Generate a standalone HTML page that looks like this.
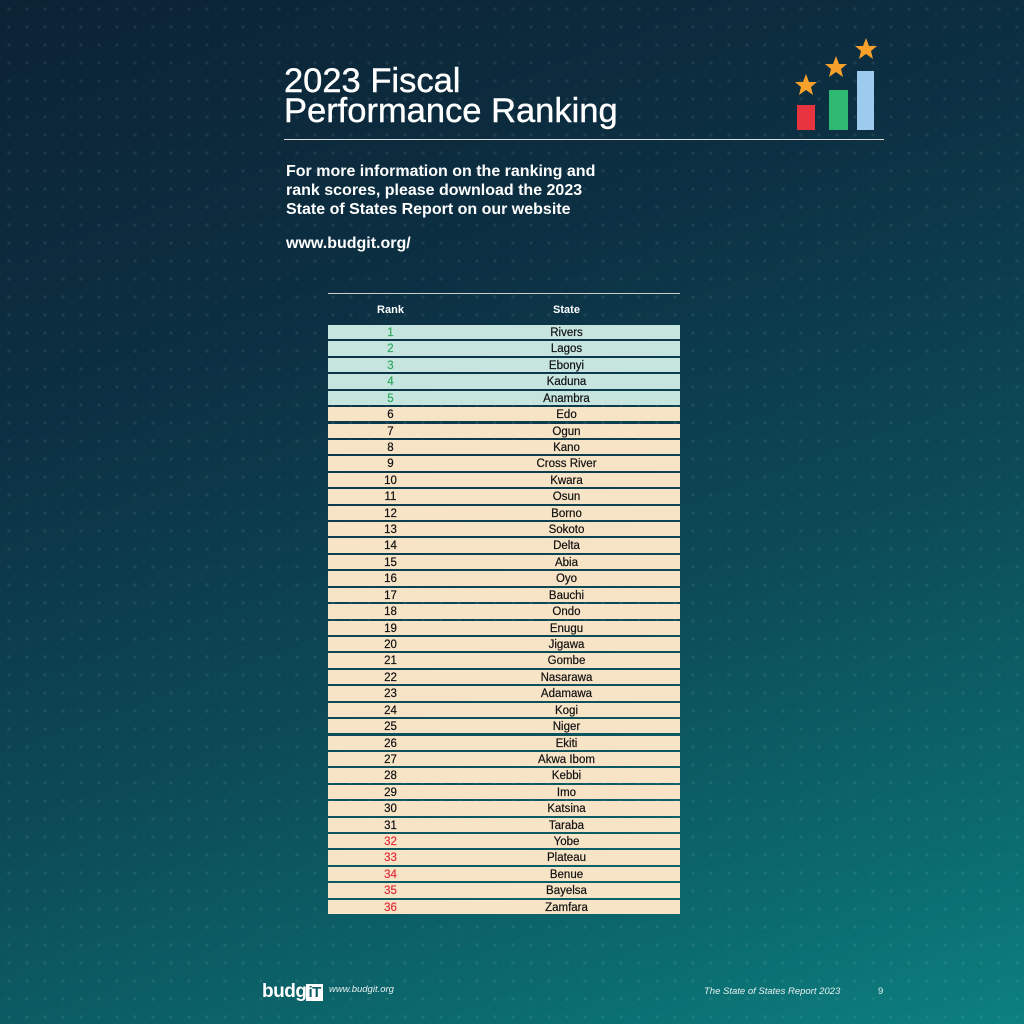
<!DOCTYPE html>
<html><head><meta charset="utf-8">
<style>
html,body{margin:0;padding:0}
body{width:1024px;height:1024px;position:relative;overflow:hidden;font-family:"Liberation Sans",sans-serif;
background:linear-gradient(160deg,#0b2334 0%,#0c2f42 30%,#0c4a57 60%,#0b6a6e 85%,#0c8080 100%);}
.dots{position:absolute;inset:0;background-image:radial-gradient(rgba(255,255,255,0.07) 1.5px,transparent 2px);background-size:18px 18px;}
#title{position:absolute;left:284px;top:66px;color:#fff;font-size:34.5px;line-height:30px;margin:0;font-weight:normal;-webkit-text-stroke:0.4px #fff}
#rule{position:absolute;left:284px;top:139px;width:600px;height:1px;background:#ddd}
#info{position:absolute;left:286px;top:162px;color:#fff;font-size:16px;line-height:19px;font-weight:bold}
#url{position:absolute;left:286px;top:235px;color:#fff;font-size:16px;font-weight:bold}
#table{position:absolute;left:328px;top:293px;width:352px}
.hdr{height:1px;background:#ccc}
.hrow{position:relative;height:31px;color:#fff;font-size:11px;font-weight:bold}
.row{position:absolute;left:0;width:352px;height:14.4px;font-size:11.5px;color:#111;line-height:17px;-webkit-text-stroke:0.2px currentColor}
.c1{position:absolute;left:0;width:125px;text-align:center}
.c2{position:absolute;left:125px;width:227px;text-align:center}
#footer-logo{position:absolute;left:262px;top:981px;color:#fff;font-size:19px;font-weight:bold;letter-spacing:-0.5px}
.foot{position:absolute;color:#e8f0f0;font-size:9.5px;font-style:italic}
</style></head><body>
<div class="dots"></div>
<h1 id="title">2023 Fiscal<br>Performance Ranking</h1>
<svg style="position:absolute;left:790px;top:36px" width="100" height="100">
<rect x="7" y="69" width="18" height="25" fill="#e8343f"/>
<rect x="39" y="54" width="19" height="40" fill="#2fb872"/>
<rect x="67" y="35" width="17" height="59" fill="#9dcbf0"/>
<g fill="#f7a12a">
<polygon points="16,38 19,46 27,46 21,51 23,59 16,54 9,59 11,51 5,46 13,46"/>
<polygon points="46,20 49,28 57,28 51,33 53,41 46,36 39,41 41,33 35,28 43,28"/>
<polygon points="76,2 79,10 87,10 81,15 83,23 76,18 69,23 71,15 65,10 73,10"/>
</g></svg>
<div id="rule"></div>
<div id="info">For more information on the ranking and<br>rank scores, please download the 2023<br>State of States Report on our website</div>
<div id="url">www.budgit.org/</div>
<div id="table">
<div class="hdr"></div>
<div class="hrow"><span class="c1" style="top:10px">Rank</span><span class="c2" style="top:10px">State</span></div>
</div>
<div id="footer-logo">budg<span style="background:#fff;color:#0b5a62;padding:0 2px;font-size:15px">iT</span></div>
<div class="foot" style="left:329px;top:984px">www.budgit.org</div>
<div class="foot" style="left:704px;top:986px">The State of States Report 2023</div>
<div class="foot" style="left:878px;top:986px;font-style:normal">9</div>
<script>
const states=["Rivers","Lagos","Ebonyi","Kaduna","Anambra","Edo","Ogun","Kano","Cross River","Kwara","Osun","Borno","Sokoto","Delta","Abia","Oyo","Bauchi","Ondo","Enugu","Jigawa","Gombe","Nasarawa","Adamawa","Kogi","Niger","Ekiti","Akwa Ibom","Kebbi","Imo","Katsina","Taraba","Yobe","Plateau","Benue","Bayelsa","Zamfara"];
const ranks=states.map((s,i)=>i+1);
const table=document.getElementById('table');
const top0=32, pitch=16.42;
ranks.forEach((r,i)=>{
  const row=document.createElement('div');
  
  
  row.className='row';
  row.style.top=(top0+i*pitch)+'px';
  row.style.background=r<=5?'#c5e5de':'#f7e3c6';
  const rc=r<=5?'#2faa5f':(r>=32?'#e0303a':'#111');
  row.innerHTML='<span class="c1" style="color:'+rc+'">'+r+'</span><span class="c2">'+states[i]+'</span>';
  table.appendChild(row);
});
</script>
</body></html>
